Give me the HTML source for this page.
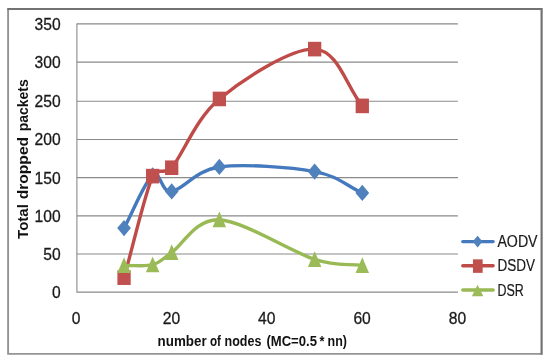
<!DOCTYPE html>
<html><head><meta charset="utf-8"><title>Total dropped packets</title>
<style>
html,body{margin:0;padding:0;background:#fff;}
body{width:550px;height:363px;overflow:hidden;}
svg{display:block;}
text{font-family:"Liberation Sans",sans-serif;fill:#1a1a1a;}
.tick{font-size:17.3px;stroke:#1a1a1a;stroke-width:0.3px;}
.ttl{font-size:14.6px;font-weight:bold;fill:#111;}
.lg{font-size:17.1px;stroke:#1a1a1a;stroke-width:0.2px;}
</style></head><body>
<svg width="550" height="363" viewBox="0 0 550 363">
<rect x="0" y="0" width="550" height="363" fill="#ffffff"/>

<g fill="none">
<path d="M8.1,9 V353.9 H541.6" stroke="#949494" stroke-width="1.9"/>
<path d="M7.2,9 H541.6 V354.8" stroke="#727272" stroke-width="2.2"/>
</g>
<g stroke="#8a8a8a" stroke-width="1.1" fill="none">
<path d="M76.9,254.05 H457.9"/>
<path d="M76.9,215.90 H457.9"/>
<path d="M76.9,177.65 H457.9"/>
<path d="M76.9,139.50 H457.9"/>
<path d="M76.9,101.30 H457.9"/>
<path d="M76.9,62.10 H457.9"/>
<path d="M76.9,23.90 H457.9"/>
<path d="M76.9,23.40 V292.15 H457.9"/>
</g>
<text class="tick" text-anchor="end" transform="translate(60.7,298.05) scale(0.905,1)">0</text>
<text class="tick" text-anchor="end" transform="translate(60.7,259.95) scale(0.905,1)">50</text>
<text class="tick" text-anchor="end" transform="translate(60.7,221.80) scale(0.905,1)">100</text>
<text class="tick" text-anchor="end" transform="translate(60.7,183.55) scale(0.905,1)">150</text>
<text class="tick" text-anchor="end" transform="translate(60.7,145.40) scale(0.905,1)">200</text>
<text class="tick" text-anchor="end" transform="translate(60.7,107.20) scale(0.905,1)">250</text>
<text class="tick" text-anchor="end" transform="translate(60.7,68.00) scale(0.905,1)">300</text>
<text class="tick" text-anchor="end" transform="translate(60.7,29.80) scale(0.905,1)">350</text>
<text class="tick" text-anchor="middle" transform="translate(76.20,324.0) scale(0.905,1)">0</text>
<text class="tick" text-anchor="middle" transform="translate(171.50,324.0) scale(0.905,1)">20</text>
<text class="tick" text-anchor="middle" transform="translate(266.80,324.0) scale(0.905,1)">40</text>
<text class="tick" text-anchor="middle" transform="translate(362.10,324.0) scale(0.905,1)">60</text>
<text class="tick" text-anchor="middle" transform="translate(457.40,324.0) scale(0.905,1)">80</text>
<text class="ttl" transform="translate(27.6,0) rotate(-90)"><tspan x="-238.90" y="0" textLength="34.70" lengthAdjust="spacingAndGlyphs">Total</tspan> <tspan x="-199.30" y="0" textLength="62.40" lengthAdjust="spacingAndGlyphs">dropped</tspan> <tspan x="-131.30" y="0" textLength="52.00" lengthAdjust="spacingAndGlyphs">packets</tspan></text>
<text class="ttl"><tspan x="157.60" y="346.4" textLength="49.00" lengthAdjust="spacingAndGlyphs">number</tspan> <tspan x="210.00" y="346.4" textLength="11.00" lengthAdjust="spacingAndGlyphs">of</tspan> <tspan x="224.60" y="346.4" textLength="36.80" lengthAdjust="spacingAndGlyphs">nodes</tspan> <tspan x="266.40" y="346.4" textLength="50.60" lengthAdjust="spacingAndGlyphs">(MC=0.5</tspan><tspan x="319.40" y="346.4" textLength="5.00" lengthAdjust="spacingAndGlyphs">*</tspan><tspan x="327.60" y="346.4" textLength="19.40" lengthAdjust="spacingAndGlyphs">nn)</tspan></text>
<path d="M124.05,228.11 C133.58,210.53 144.70,181.48 152.64,175.36 C160.58,169.25 160.58,192.82 171.70,191.42 C182.82,190.02 195.53,170.28 219.35,166.97 C243.17,163.66 290.82,167.22 314.65,171.55 C338.47,175.88 346.42,185.82 362.30,192.95" fill="none" stroke="#4479bd" stroke-width="3.4" stroke-linecap="round" stroke-linejoin="round"/>
<path d="M124.05,220.01 L130.90,228.11 L124.05,236.21 L117.20,228.11Z" fill="#4f81bd"/>
<path d="M152.64,167.26 L159.49,175.36 L152.64,183.46 L145.79,175.36Z" fill="#4f81bd"/>
<path d="M171.70,183.32 L178.55,191.42 L171.70,199.52 L164.85,191.42Z" fill="#4f81bd"/>
<path d="M219.35,158.87 L226.20,166.97 L219.35,175.07 L212.50,166.97Z" fill="#4f81bd"/>
<path d="M314.65,163.45 L321.50,171.55 L314.65,179.65 L307.80,171.55Z" fill="#4f81bd"/>
<path d="M362.30,184.85 L369.15,192.95 L362.30,201.05 L355.45,192.95Z" fill="#4f81bd"/>
<path d="M124.05,277.67 C133.58,243.82 144.70,194.45 152.64,176.12 C156.78,166.57 164.89,175.61 171.70,167.73 C182.82,154.87 195.53,118.72 219.35,98.95 C243.17,79.18 290.82,47.96 314.65,49.11 C338.47,50.27 346.42,86.96 362.30,105.88" fill="none" stroke="#be4b48" stroke-width="3.4" stroke-linecap="round" stroke-linejoin="round"/>
<rect x="117.40" y="270.37" width="13.30" height="14.60" fill="#c0504d"/>
<rect x="145.99" y="168.82" width="13.30" height="14.60" fill="#c0504d"/>
<rect x="165.05" y="160.43" width="13.30" height="14.60" fill="#c0504d"/>
<rect x="212.70" y="91.65" width="13.30" height="14.60" fill="#c0504d"/>
<rect x="308.00" y="41.81" width="13.30" height="14.60" fill="#c0504d"/>
<rect x="355.65" y="98.58" width="13.30" height="14.60" fill="#c0504d"/>
<path d="M124.05,265.48 C133.58,265.23 144.70,266.88 152.64,264.72 C160.58,262.56 162.32,258.85 171.70,252.52 C182.82,245.02 195.53,218.57 219.35,219.72 C243.17,220.86 290.82,251.76 314.65,259.38 C337.53,266.71 346.42,263.45 362.30,265.48" fill="none" stroke="#98b954" stroke-width="3.4" stroke-linecap="round" stroke-linejoin="round"/>
<path d="M124.05,257.28 L130.80,272.98 L117.30,272.98Z" fill="#9bbb59"/>
<path d="M152.64,256.52 L159.39,272.22 L145.89,272.22Z" fill="#9bbb59"/>
<path d="M171.70,244.32 L178.45,260.02 L164.95,260.02Z" fill="#9bbb59"/>
<path d="M219.35,211.52 L226.10,227.22 L212.60,227.22Z" fill="#9bbb59"/>
<path d="M314.65,251.18 L321.40,266.88 L307.90,266.88Z" fill="#9bbb59"/>
<path d="M362.30,257.28 L369.05,272.98 L355.55,272.98Z" fill="#9bbb59"/>
<path d="M462.8,241.6 H493.1" stroke="#4479bd" stroke-width="3.4" stroke-linecap="round" fill="none"/>
<path d="M477.60,235.75 L482.50,241.60 L477.60,247.45 L472.70,241.60Z" fill="#4f81bd"/>
<text class="lg" x="497.40" y="247.20" textLength="40.20" lengthAdjust="spacingAndGlyphs">AODV</text>
<path d="M462.8,265.8 H493.1" stroke="#be4b48" stroke-width="3.4" stroke-linecap="round" fill="none"/>
<rect x="472.95" y="259.34" width="9.70" height="13.52" fill="#c0504d"/>
<text class="lg" x="497.40" y="271.40" textLength="37.60" lengthAdjust="spacingAndGlyphs">DSDV</text>
<path d="M462.8,290.0 H493.1" stroke="#98b954" stroke-width="3.4" stroke-linecap="round" fill="none"/>
<path d="M477.6,284.7 L483.3,296.3 L471.9,296.3Z" fill="#9bbb59"/>
<text class="lg" x="497.40" y="295.60" textLength="26.30" lengthAdjust="spacingAndGlyphs">DSR</text>
</svg>
</body></html>
